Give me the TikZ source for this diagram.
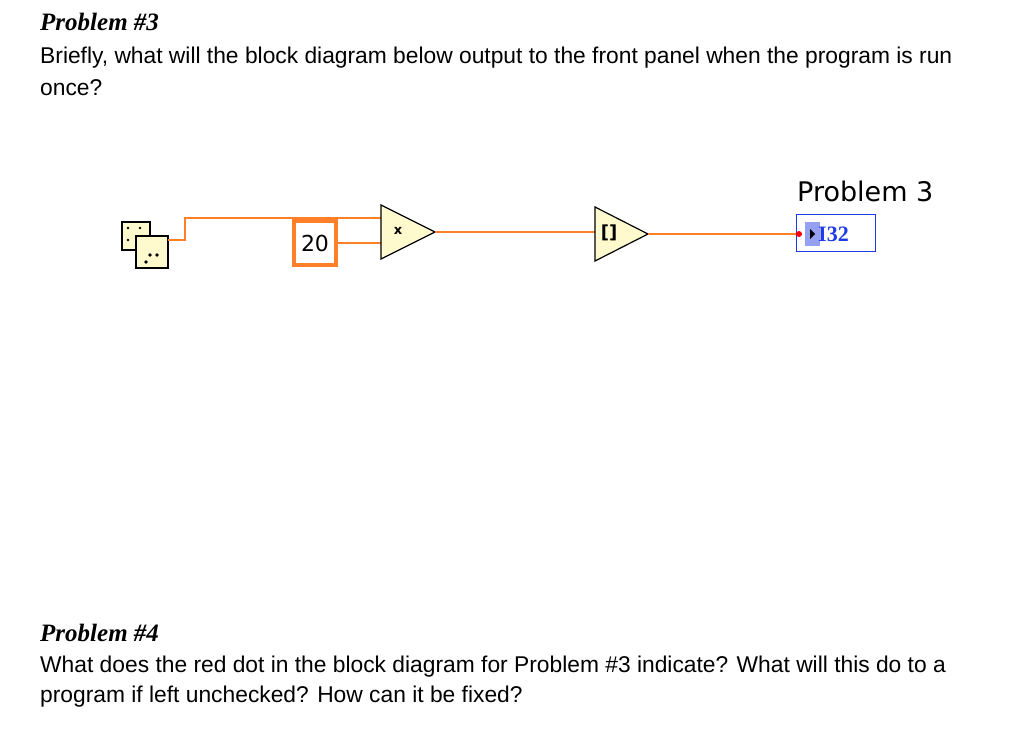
\documentclass[tikz,border=0pt]{standalone}
\usepackage{fontspec}
\setmainfont{Liberation Sans}
\newfontfamily\serifb{Liberation Serif}
\newfontfamily\lvfont{DejaVu Sans}
\definecolor{wireor}{RGB}{255,128,40}
\definecolor{paley}{RGB}{255,250,205}
\definecolor{lvblue}{RGB}{30,60,230}
\definecolor{lvsel}{RGB}{150,160,240}
\begin{document}
\begin{tikzpicture}[x=1pt,y=-1pt,
  hd/.style={anchor=west,font=\serifb\bfseries\itshape\fontsize{25}{28}\selectfont,inner sep=0},
  tx/.style={anchor=west,font=\fontsize{22.8}{26}\selectfont,inner sep=0},
  wire/.style={draw=wireor,line width=1.6pt},
  tri/.style={draw=black,fill=paley,line width=1.2pt}]
\useasboundingbox (0,0) rectangle (1024,731);
\node[hd] (h3) at (40,22) {Problem \#3};
\node[tx] (l1) at (40,58) {Briefly, what will the block diagram below output to the front panel when the program is run};
\node[tx] (l2) at (40,88) {once?};
\node[hd] (h4) at (40,633) {Problem \#4};
\node[tx] (l3) at (40,667) {What does the red dot in the block diagram for Problem \#3 indicate? What will this do to a};
\node[tx] (l4) at (40,697) {program if left unchecked? How can it be fixed?};
% dice
\draw[tri] (122,222) rectangle (150,250);
\draw[tri] (136,236) rectangle (168,268);
\fill (150,255) circle (1.8); \fill (157,255) circle (1.8); \fill (146,262) circle (1.8);
\fill (128,228) circle (1.4); \fill (140,228) circle (1.4);\fill (128,240) circle (1.4);
\coordinate (dice) at (168,240);
% wires
\draw[wire] (dice) -- (185,240) -- (185,218) -- (381,218);
\node[draw=wireor,line width=4pt,minimum width=42pt,minimum height=44pt,font=\lvfont\fontsize{22}{22}\selectfont] (c20) at (315,243) {20};
\draw[wire] (c20.east) -- (381,243);
\draw[tri] (381,205) -- (435,232) -- (381,259) -- cycle;
\node[font=\lvfont\bfseries\fontsize{13}{13}\selectfont] (mul) at (398,231) {x};
\draw[wire] (435,232) -- (595,232);
\draw[tri] (595,207) -- (648,234) -- (595,261) -- cycle;
\node[font=\lvfont\bfseries\fontsize{18}{18}\selectfont] (rnd) at (609,233) {[]};
\draw[wire] (648,234) -- (797,234);
\node[font=\lvfont\fontsize{27}{27}\selectfont,anchor=west,inner sep=0] (lab) at (797,191) {Problem 3};
\node[draw=lvblue,line width=1.5pt,minimum width=79pt,minimum height=37pt] (ind) at (836,233) {};
\fill[lvsel] (805,222) rectangle (820,246);
\node[font=\serifb\bfseries\fontsize{22}{22}\selectfont,text=lvblue,anchor=west,inner sep=0] (i32) at (818,234) {I32};
\fill (810,229) -- (815,234) -- (810,239) -- cycle;
\fill[red] (799,234) circle (3);
\end{tikzpicture}
\end{document}
